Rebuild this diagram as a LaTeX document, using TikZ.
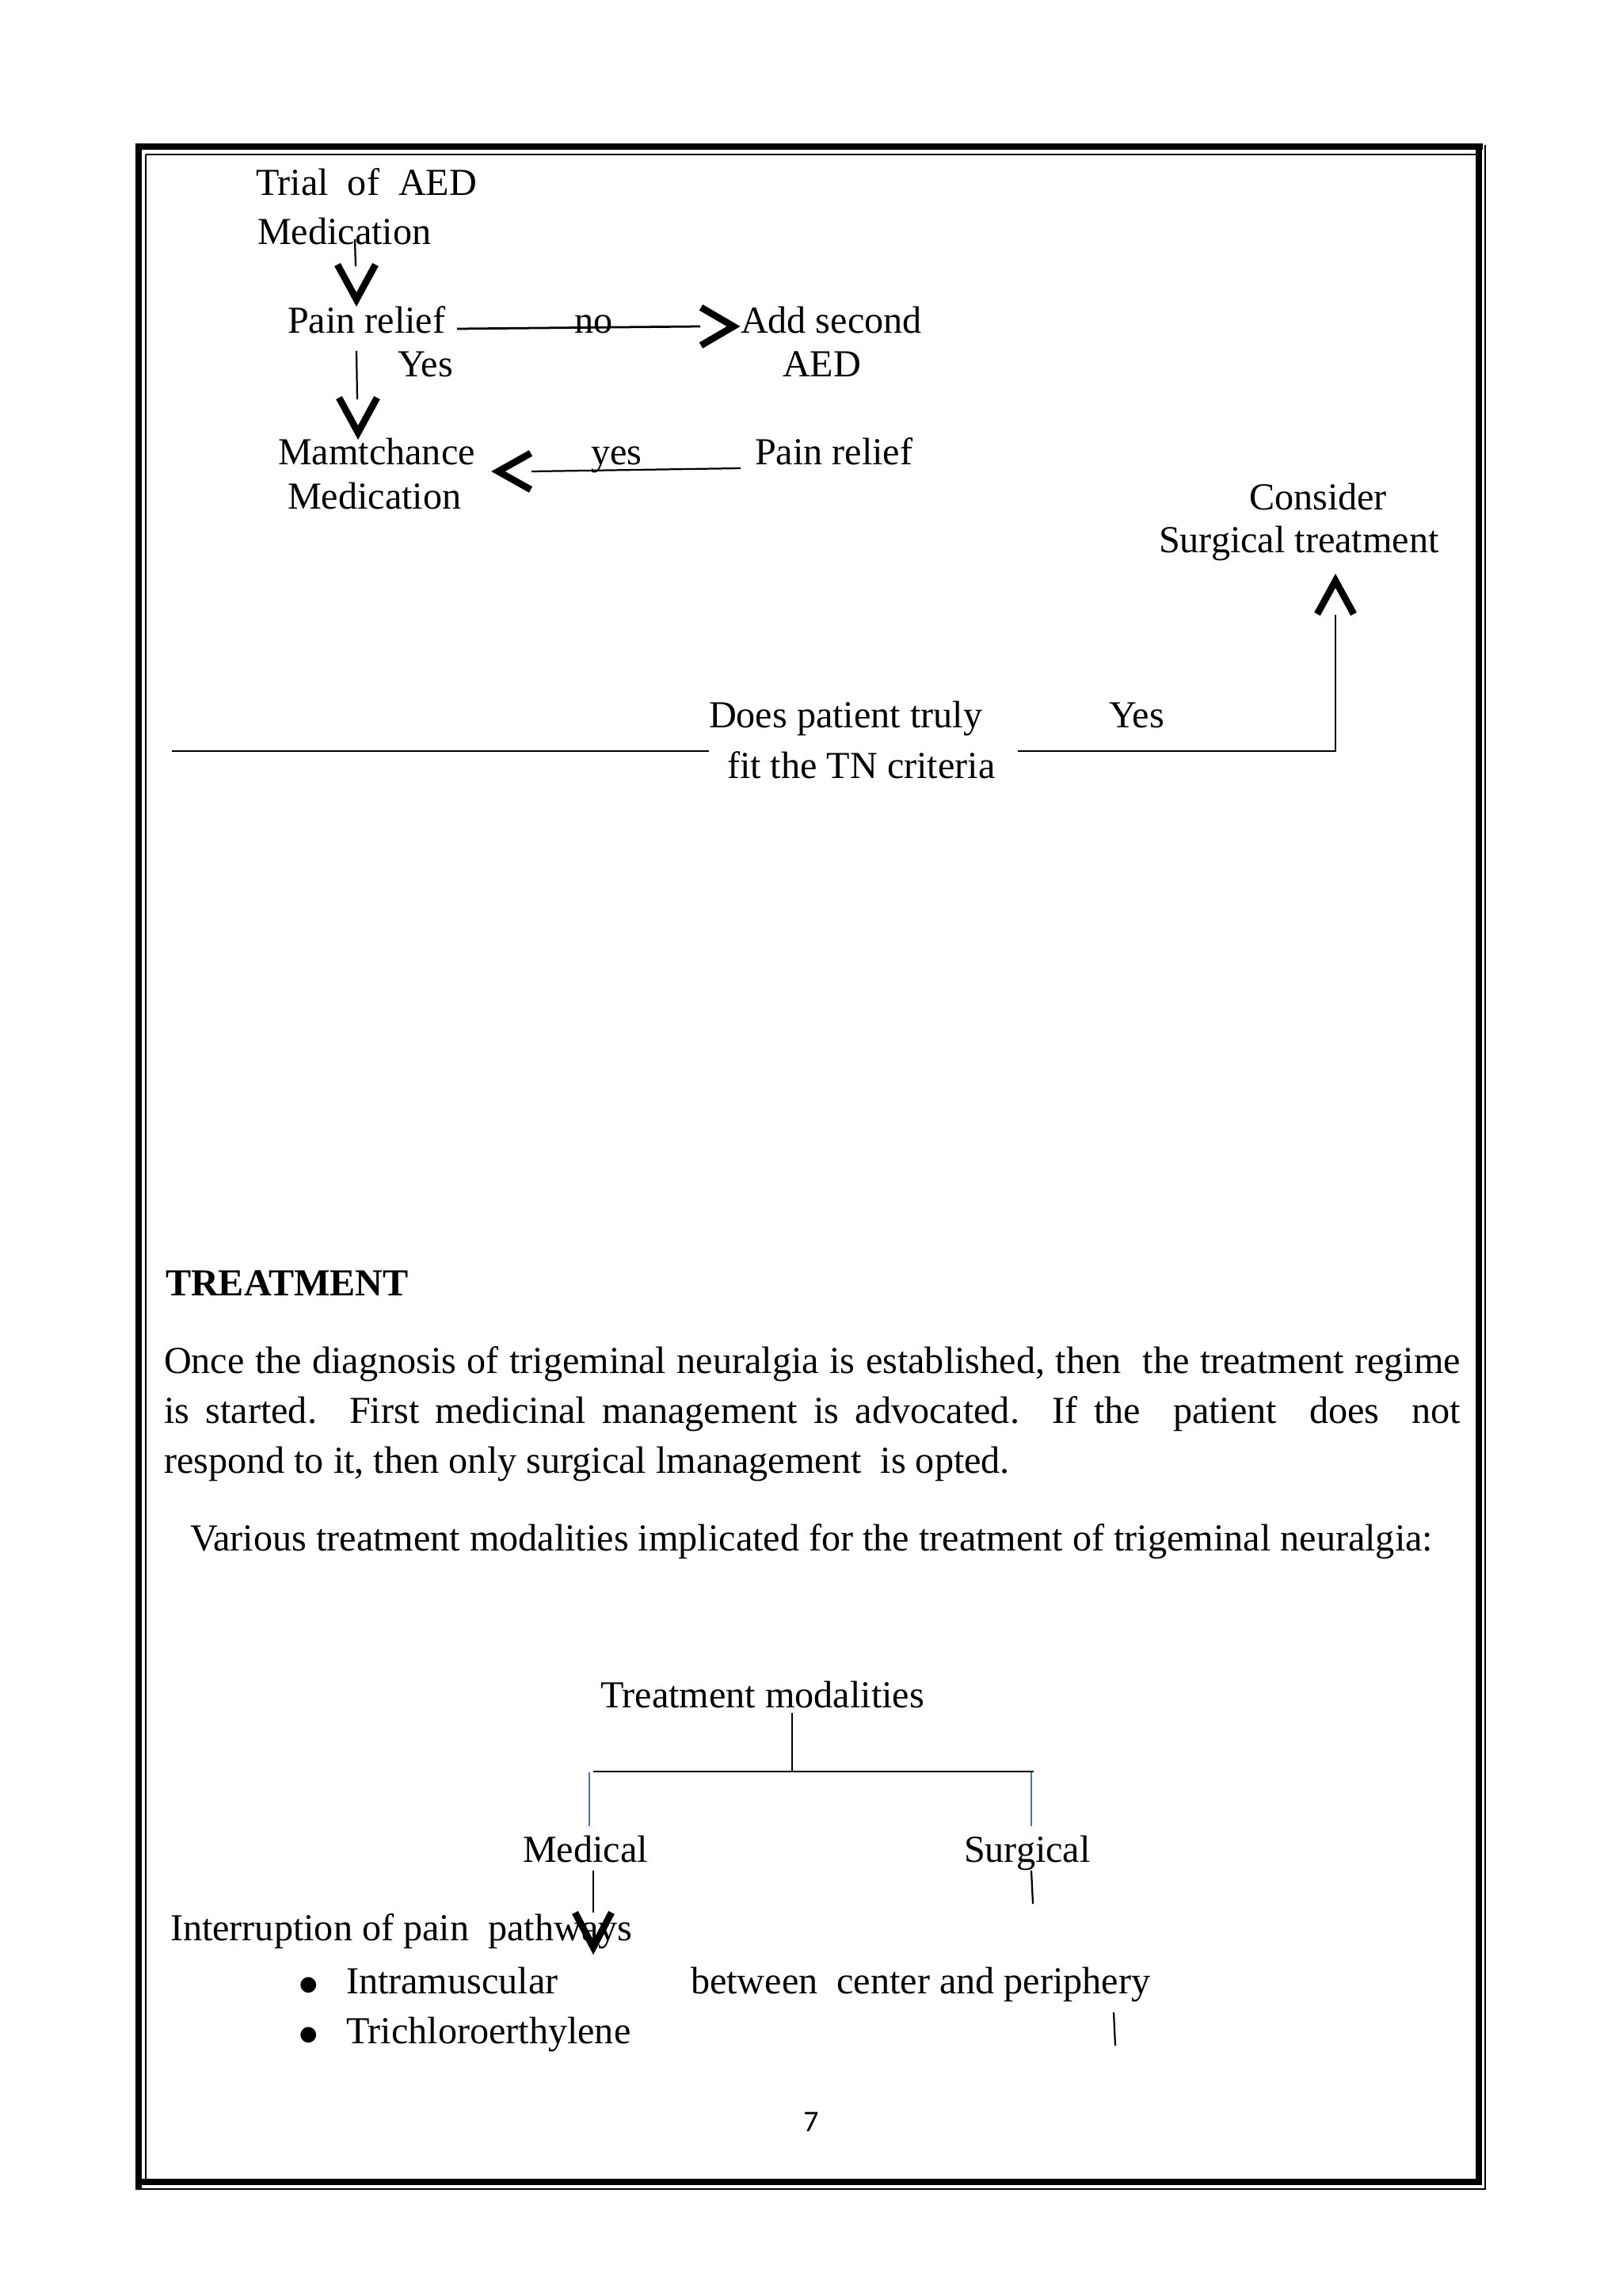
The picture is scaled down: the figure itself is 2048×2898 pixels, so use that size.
\documentclass[tikz,border=0pt]{standalone}
\usepackage{fontspec}
\setmainfont{Liberation Serif}
\newfontfamily\pnfont{Carlito}
\newfontfamily\symfont{DejaVu Sans}
\usetikzlibrary{arrows.meta}
\tikzset{
  lbl/.style={anchor=base west, inner sep=0pt, outer sep=0pt, font=\fontsize{14}{17}\selectfont},
  conn/.style={line width=0.65pt, line cap=butt},
  chevhead/.style={line width=2.5pt, line cap=butt, line join=miter, miter limit=10},
  bthick/.style={line width=2.33pt},
  bthin/.style={line width=0.65pt},
  blueline/.style={line width=0.5pt, draw=treeblue},
}
\definecolor{treeblue}{HTML}{4472C4}
\begin{document}
\begin{tikzpicture}[x=0.29067pt, y=-0.29067pt]
\useasboundingbox (0,0) rectangle (2048,2898);
\fill[white] (0,0) rectangle (2048,2898);
% page border
\draw[bthick] (171,185) -- (1872,185);
\draw[bthick] (175,181) -- (175,2762);
\draw[bthick] (1867,181) -- (1867,2758);
\draw[bthick] (173,2754) -- (1871,2754);
\draw[bthin] (184,195) -- (1863,195);
\draw[bthin] (184,195) -- (184,2750);
\draw[bthin] (1875,183) -- (1875,2764);
\draw[bthin] (171,2763) -- (1876,2763);

% flowchart texts
\node[lbl] (trial) at (323,246) {Trial\ \ of\ \ AED};
\node[lbl] (med1) at (325,308) {Medication};
\node[lbl] (pr1) at (363,420) {Pain relief};
\node[lbl] (no) at (725,420) {no};
\node[lbl] (add) at (935,420) {Add second};
\node[lbl] (aed) at (988,475) {AED};
\node[lbl] (yes1) at (502,475) {Yes};
\node[lbl] (mam) at (351,586) {Mamtchance};
\node[lbl] (med2) at (363,642) {Medication};
\node[lbl] (yes2) at (746,586) {yes};
\node[lbl] (pr2) at (953,586) {Pain relief};
\node[lbl] (cons) at (1577,643) {Consider};
\node[lbl] (surgt) at (1463,697) {Surgical treatment};
\node[lbl] (does) at (895,918) {Does patient truly};
\node[lbl] (fit) at (918,982) {fit the TN criteria};
\node[lbl] (yes3) at (1400,918) {Yes};

% connector end points (shaft start, shaft end, tip)
\coordinate (c1s) at (448,302);
\coordinate (c1b) at (449,336);
\coordinate (c1t) at (450,385);
\coordinate (c2s) at (577,415);
\coordinate (c2b) at (884,412);
\coordinate (c2t) at (932,412);
\coordinate (c3s) at (450,443);
\coordinate (c3b) at (451,504);
\coordinate (c3t) at (452,553);
\coordinate (c4s) at (935,591);
\coordinate (c4b) at (671,595);
\coordinate (c4t) at (623,595);
\coordinate (c5s) at (1285,948);
\coordinate (c5k) at (1686,948);
\coordinate (c5b) at (1686,776);
\coordinate (c5t) at (1686,727);
\coordinate (c6s) at (217,948);
\coordinate (c6e) at (895,948);

% shafts
\draw[conn] (c1s) -- (c1b);
\draw[conn, line width=0.8pt] (c2s) -- (c2b);
\draw[conn] (c3s) -- (c3b);
\draw[conn] (c4s) -- (c4b);
\draw[conn, line width=0.75pt] (c5s) -- (c5k) -- (c5b);
\draw[conn, line width=0.85pt] (c6s) -- (c6e);
% chevron heads
\draw[chevhead] (c1t) ++(-24,-51) -- ++(24,44) -- ++(24,-44);
\draw[chevhead] (c3t) ++(-24,-51) -- ++(24,44) -- ++(24,-44);
\draw[chevhead] (c2t) ++(-47,-24) -- ++(41,24) -- ++(-41,24);
\draw[chevhead] (c4t) ++(47,-23) -- ++(-41,23) -- ++(41,23);
\draw[chevhead] (c5t) ++(-23,48) -- ++(23,-42) -- ++(23,42);

% treatment text
\node[lbl, font=\fontsize{14}{17}\selectfont\bfseries] (treat) at (209,1635) {TREATMENT};
\node[lbl] (para1) at (207,1733) {\makebox[475.8pt][s]{Once the diagnosis of trigeminal neuralgia is established, then\ \ the treatment regime}};
\node[lbl] (para2) at (207,1796) {\makebox[475.8pt][s]{is started.\ \ First medicinal management is advocated. If the\ \ patient\ \ does\ \ not}};
\node[lbl] (para3) at (207,1859) {respond to it, then only surgical lmanagement\ \ is opted.};
\node[lbl] (various) at (240,1957) {Various treatment modalities implicated for the treatment of trigeminal neuralgia:};

% tree
\node[lbl] (tm) at (758,2155) {Treatment modalities};
\node[lbl] (medical) at (660,2350) {Medical};
\node[lbl] (surgical) at (1217,2350) {Surgical};
\node[lbl] (interr) at (215,2449) {Interruption of pain\ \ pathways};
\node[lbl, font=\symfont\fontsize{7.5}{9}\selectfont] (b1) at (378,2512) {●};
\node[lbl] (intra) at (437,2516) {Intramuscular};
\node[lbl] (betw) at (872,2516) {between\ \ center and periphery};
\node[lbl, font=\symfont\fontsize{7.5}{9}\selectfont] (b2) at (378,2575) {●};
\node[lbl] (trich) at (437,2579) {Trichloroerthylene};

\coordinate (t0) at (1000,2162);
\coordinate (t1) at (1000,2236);
\coordinate (tl) at (749,2236);
\coordinate (tr) at (1305,2236);
\coordinate (bl0) at (744,2237);
\coordinate (bl1) at (744,2305);
\coordinate (br0) at (1302,2237);
\coordinate (br1) at (1302,2305);
\coordinate (m0) at (749,2361);
\coordinate (mb) at (749,2414);
\coordinate (mt) at (749,2465);
\coordinate (s0) at (1302,2361);
\coordinate (s1) at (1304,2403);
\coordinate (p0) at (1406,2540);
\coordinate (p1) at (1408,2582);

\draw[conn] (t0) -- (t1);
\draw[conn, line width=0.8pt] (tl) -- (tr);
\draw[blueline] (bl0) -- (bl1);
\draw[blueline] (br0) -- (br1);
\draw[conn] (m0) -- (mb);
\draw[chevhead] (mt) ++(-23,-51) -- ++(23,44) -- ++(23,-44);
\draw[conn] (s0) -- (s1);
\draw[conn] (p0) -- (p1);

% page number
\node[anchor=base, inner sep=0pt, font=\pnfont\fontsize{11}{13}\selectfont] (pnum) at (1024,2690) {7};
\end{tikzpicture}
\end{document}
